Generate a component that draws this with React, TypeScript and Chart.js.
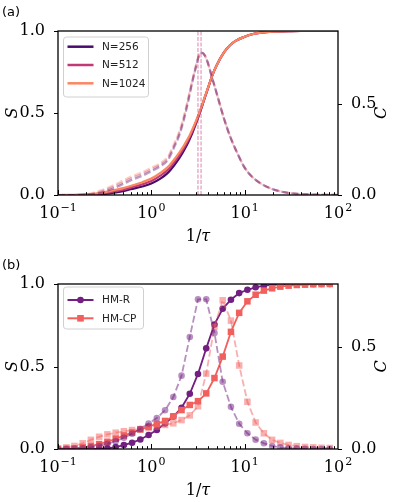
import React, { useEffect, useRef } from "react";
import { Chart, registerables } from "chart.js";
Chart.register(...registerables);

// ---------- Panel (a) ----------
const tauA = [0.1, 0.15, 0.2, 0.25, 0.3, 0.4, 0.5, 0.6, 0.8, 1, 1.25, 1.5, 1.75, 2, 2.25, 2.5, 2.75, 3, 3.25, 3.5, 3.75, 4, 4.5, 5, 6, 7, 8, 10, 12, 15, 20, 25, 30, 40, 50, 70, 100];
const sN256 = [0, 0, 0.001, 0.002, 0.005, 0.014, 0.024, 0.035, 0.052, 0.07, 0.1, 0.135, 0.18, 0.226, 0.275, 0.325, 0.378, 0.433, 0.488, 0.542, 0.595, 0.642, 0.73, 0.79, 0.87, 0.915, 0.94, 0.965, 0.98, 0.99, 0.996, 0.998, 0.999, 1, 1, 1, 1];
const sN512 = [0, 0, 0.002, 0.005, 0.01, 0.022, 0.033, 0.045, 0.065, 0.085, 0.118, 0.153, 0.198, 0.243, 0.29, 0.338, 0.39, 0.442, 0.495, 0.547, 0.598, 0.644, 0.73, 0.79, 0.87, 0.915, 0.94, 0.965, 0.98, 0.99, 0.996, 0.998, 0.999, 1, 1, 1, 1];
const sN1024 = [0, 0.001, 0.003, 0.008, 0.015, 0.03, 0.042, 0.055, 0.078, 0.1, 0.135, 0.17, 0.215, 0.26, 0.305, 0.35, 0.4, 0.45, 0.5, 0.55, 0.6, 0.645, 0.73, 0.79, 0.87, 0.915, 0.94, 0.965, 0.98, 0.99, 0.996, 0.998, 0.999, 1, 1, 1, 1];
const cN256 = [0, 0, 0, 0.005, 0.015, 0.038, 0.06, 0.08, 0.105, 0.13, 0.158, 0.19, 0.26, 0.33, 0.42, 0.52, 0.62, 0.7, 0.765, 0.78, 0.765, 0.73, 0.64, 0.56, 0.42, 0.32, 0.25, 0.15, 0.1, 0.062, 0.032, 0.018, 0.011, 0.005, 0.003, 0.001, 0];
const cN512 = [0, 0, 0.002, 0.01, 0.022, 0.047, 0.07, 0.09, 0.115, 0.14, 0.167, 0.2, 0.27, 0.34, 0.43, 0.53, 0.625, 0.705, 0.768, 0.78, 0.765, 0.73, 0.64, 0.56, 0.42, 0.32, 0.25, 0.15, 0.1, 0.062, 0.032, 0.018, 0.011, 0.005, 0.003, 0.001, 0];
const cN1024 = [0, 0, 0.004, 0.015, 0.028, 0.055, 0.08, 0.1, 0.125, 0.15, 0.175, 0.21, 0.28, 0.35, 0.44, 0.54, 0.63, 0.71, 0.77, 0.78, 0.765, 0.73, 0.64, 0.56, 0.42, 0.32, 0.25, 0.15, 0.1, 0.062, 0.032, 0.018, 0.011, 0.005, 0.003, 0.001, 0];
const labelsA = ["N=256", "N=512", "N=1024"];
const colorsA = ["#4a0c6b", "#c03a76", "#fb8761"];
const criticalTauA = [3.16, 3.41];
const cMaxA = 0.9;

// ---------- Panel (b) ----------
const tauB = [0.1, 0.123, 0.15, 0.184, 0.225, 0.276, 0.338, 0.415, 0.508, 0.622, 0.762, 0.935, 1.145, 1.403, 1.719, 2.107, 2.582, 3.162, 3.874, 4.746, 5.817, 7.127, 8.733, 10.7, 13.11, 16.07, 19.68, 24.12, 29.55, 36.21, 44.37, 54.36, 66.61, 81.62];
const sHMR = [0, 0, 0, 0, 0, 0.001, 0.004, 0.012, 0.024, 0.038, 0.058, 0.085, 0.115, 0.155, 0.197, 0.25, 0.335, 0.455, 0.61, 0.755, 0.85, 0.905, 0.945, 0.965, 0.98, 0.99, 0.995, 0.998, 0.999, 1, 1, 1, 1, 1];
const cHMR = [0, 0, 0.001, 0.003, 0.008, 0.015, 0.025, 0.038, 0.055, 0.075, 0.098, 0.125, 0.152, 0.19, 0.255, 0.36, 0.55, 0.735, 0.735, 0.57, 0.33, 0.207, 0.124, 0.077, 0.046, 0.028, 0.015, 0.008, 0.004, 0.002, 0.001, 0, 0, 0];
const sHMCP = [0, 0.001, 0.004, 0.01, 0.018, 0.03, 0.044, 0.062, 0.082, 0.1, 0.118, 0.135, 0.152, 0.17, 0.198, 0.236, 0.267, 0.29, 0.337, 0.43, 0.56, 0.71, 0.825, 0.895, 0.935, 0.96, 0.974, 0.984, 0.99, 0.994, 0.996, 0.998, 0.999, 1];
const cHMCP = [0.003, 0.008, 0.015, 0.028, 0.045, 0.06, 0.072, 0.08, 0.087, 0.093, 0.098, 0.103, 0.11, 0.118, 0.126, 0.142, 0.165, 0.21, 0.37, 0.6, 0.73, 0.63, 0.41, 0.232, 0.13, 0.077, 0.045, 0.03, 0.02, 0.014, 0.01, 0.008, 0.006, 0.005];
const labelsB = ["HM-R", "HM-CP"];
const colorsB = ["#721f81", "#f1605d"];
const markersB = ["circle", "rect"];
const cMaxB = 0.81;

// ---------- shared axes ----------
const sTicks = [0, 0.5, 1];
const cTicks = [0, 0.5];
const xMajor = [0.1, 1, 10, 100];
const xExponents = ["\u22121", "0", "1", "2"];
const xTitle = ["1/", "\u03c4"];

const SERIF = '"DejaVu Serif", "Liberation Serif", serif';
const SANS = '"DejaVu Sans", sans-serif';

function rgba(hex: string, a: number) {
  const n = parseInt(hex.slice(1), 16);
  return `rgba(${(n >> 16) & 255},${(n >> 8) & 255},${n & 255},${a})`;
}
const pts = (xs: number[], ys: number[]) => xs.map((x, i) => ({ x, y: ys[i] }));

function drawMarker(ctx: CanvasRenderingContext2D, style: string, x: number, y: number, color: string) {
  ctx.fillStyle = color;
  if (style === "rect") {
    ctx.fillRect(x - 3.3, y - 3.3, 6.6, 6.6);
  } else {
    ctx.beginPath();
    ctx.arc(x, y, 3.3, 0, Math.PI * 2);
    ctx.fill();
  }
}

function makeDeco(cfg: any) {
  return {
    id: "deco" + cfg.letter,
    afterDraw(chart: any) {
      const ctx: CanvasRenderingContext2D = chart.ctx;
      const { left, right, top, bottom } = chart.chartArea;
      const xs = chart.scales.x;
      const ys = chart.scales.y;
      const yc = chart.scales.y1;
      ctx.save();
      ctx.strokeStyle = "#000";
      ctx.lineWidth = 1;
      ctx.setLineDash([]);
      // x ticks (inward)
      for (let d = 0; d < 3; d++) {
        const base = xMajor[d];
        for (let m = 1; m <= 9; m++) {
          const px = Math.round(xs.getPixelForValue(base * m)) + 0.5;
          const len = m === 1 ? 5 : 2.8;
          ctx.beginPath();
          ctx.moveTo(px, bottom);
          ctx.lineTo(px, bottom - len);
          ctx.stroke();
        }
      }
      // y ticks (outward)
      sTicks.forEach((v) => {
        const py = Math.round(ys.getPixelForValue(v)) + 0.5;
        ctx.beginPath();
        ctx.moveTo(left - 4, py);
        ctx.lineTo(left, py);
        ctx.stroke();
      });
      cTicks.forEach((v) => {
        const py = Math.round(yc.getPixelForValue(v)) + 0.5;
        ctx.beginPath();
        ctx.moveTo(right, py);
        ctx.lineTo(right + 4, py);
        ctx.stroke();
      });
      // frame
      ctx.lineWidth = 1.3;
      ctx.strokeRect(left, top, right - left, bottom - top);

      // x tick labels 10^k
      ctx.fillStyle = "#000";
      ctx.textBaseline = "alphabetic";
      ctx.textAlign = "left";
      xMajor.forEach((v, i) => {
        const px = xs.getPixelForValue(v);
        ctx.font = `16px ${SERIF}`;
        const wb = ctx.measureText("10").width;
        ctx.font = `11px ${SERIF}`;
        const we = ctx.measureText(xExponents[i]).width;
        const total = wb + we + 1;
        const x0 = px - total / 2;
        ctx.font = `16px ${SERIF}`;
        ctx.fillText("10", x0, bottom + 23);
        ctx.font = `11px ${SERIF}`;
        ctx.fillText(xExponents[i], x0 + wb + 1, bottom + 16);
      });
      // x title
      ctx.font = `16px ${SERIF}`;
      const w1 = ctx.measureText(xTitle[0]).width;
      ctx.font = `italic 16px ${SERIF}`;
      const w2 = ctx.measureText(xTitle[1]).width;
      const cx = (left + right) / 2 - (w1 + w2) / 2;
      ctx.font = `16px ${SERIF}`;
      ctx.fillText(xTitle[0], cx, bottom + 46);
      ctx.font = `italic 16px ${SERIF}`;
      ctx.fillText(xTitle[1], cx + w1, bottom + 46);

      // y titles
      const midY = (top + bottom) / 2;
      ctx.font = `italic 16px ${SERIF}`;
      ctx.textAlign = "center";
      ctx.textBaseline = "middle";
      ctx.save();
      ctx.translate(13, midY);
      ctx.rotate(-Math.PI / 2);
      ctx.fillText("S", 0, 0);
      ctx.restore();
      ctx.save();
      ctx.translate(right + 44, midY);
      ctx.rotate(-Math.PI / 2);
      ctx.fillText("C", 0, 0);
      ctx.restore();

      // panel letter
      ctx.textAlign = "left";
      ctx.textBaseline = "alphabetic";
      ctx.font = `13px ${SANS}`;
      ctx.fillText(`(${cfg.letter})`, 2, top - 15);

      // legend
      const lg = cfg.legend;
      const bx = left + 5.5;
      const by = top + lg.top;
      const r = 3;
      ctx.beginPath();
      ctx.moveTo(bx + r, by);
      ctx.lineTo(bx + lg.w - r, by);
      ctx.arcTo(bx + lg.w, by, bx + lg.w, by + r, r);
      ctx.lineTo(bx + lg.w, by + lg.h - r);
      ctx.arcTo(bx + lg.w, by + lg.h, bx + lg.w - r, by + lg.h, r);
      ctx.lineTo(bx + r, by + lg.h);
      ctx.arcTo(bx, by + lg.h, bx, by + lg.h - r, r);
      ctx.lineTo(bx, by + r);
      ctx.arcTo(bx, by, bx + r, by, r);
      ctx.closePath();
      ctx.fillStyle = "rgba(255,255,255,0.85)";
      ctx.fill();
      ctx.strokeStyle = "#d0d0d0";
      ctx.lineWidth = 1;
      ctx.stroke();
      lg.items.forEach((it: any, i: number) => {
        const y = top + lg.rows[i];
        ctx.strokeStyle = it.color;
        ctx.lineWidth = lg.lw;
        ctx.beginPath();
        ctx.moveTo(bx + 4, y);
        ctx.lineTo(bx + 30, y);
        ctx.stroke();
        if (it.marker) drawMarker(ctx, it.marker, bx + 17, y, it.color);
        ctx.fillStyle = "#222";
        ctx.font = `10.5px ${SANS}`;
        ctx.textBaseline = "middle";
        ctx.fillText(it.label, bx + 38.5, y + 0.5);
      });
      ctx.restore();
    },
  };
}

function baseOptions(padTop: number, xHeight: number, cMax: number) {
  const tickFont = { family: SERIF, size: 16 };
  return {
    responsive: false,
    animation: false,
    devicePixelRatio: 1,
    layout: { padding: { top: padTop, left: 0, right: 0, bottom: 0 } },
    plugins: { legend: { display: false }, tooltip: { enabled: false } },
    elements: { point: { radius: 0 } },
    scales: {
      x: {
        type: "logarithmic",
        min: 0.1,
        max: 100,
        ticks: { display: false },
        grid: { display: false },
        border: { display: false },
        afterFit: (s: any) => {
          s.height = xHeight;
        },
      },
      y: {
        position: "left",
        min: 0,
        max: 1,
        afterBuildTicks: (s: any) => {
          s.ticks = sTicks.map((v) => ({ value: v }));
        },
        ticks: { padding: 5, color: "#000", font: tickFont, callback: (v: any) => Number(v).toFixed(1) },
        grid: { display: false },
        border: { display: false },
        afterFit: (s: any) => {
          s.width = 58;
        },
      },
      y1: {
        position: "right",
        min: 0,
        max: cMax,
        afterBuildTicks: (s: any) => {
          s.ticks = cTicks.map((v) => ({ value: v }));
        },
        ticks: { padding: 5, color: "#000", font: tickFont, callback: (v: any) => Number(v).toFixed(1) },
        grid: { display: false },
        border: { display: false },
        afterFit: (s: any) => {
          s.width = 57;
        },
      },
    },
  };
}

export default function App() {
  const refA = useRef<HTMLCanvasElement>(null);
  const refB = useRef<HTMLCanvasElement>(null);

  useEffect(() => {
    const sA = [sN256, sN512, sN1024];
    const cA = [cN256, cN512, cN1024];

    const dsA: any[] = [];
    criticalTauA.forEach((c) => {
      dsA.push({
        data: [{ x: c, y: 0 }, { x: c, y: 1 }],
        yAxisID: "y",
        borderColor: rgba(colorsA[1], 0.6),
        borderWidth: 1,
        borderDash: [4, 1.5],
        pointRadius: 0,
      });
    });
    [0, 1, 2].forEach((i) => {
      dsA.push({
        data: pts(tauA, cA[i]),
        yAxisID: "y1",
        borderColor: rgba(colorsA[i], 0.38),
        borderWidth: 2.2,
        borderDash: [7, 3],
        pointRadius: 0,
        cubicInterpolationMode: "monotone",
      });
    });
    [2, 1, 0].forEach((i) => {
      dsA.push({
        data: pts(tauA, sA[i]),
        yAxisID: "y",
        borderColor: colorsA[i],
        borderWidth: 2.2,
        pointRadius: 0,
        cubicInterpolationMode: "monotone",
      });
    });

    const chartA = new Chart(refA.current as HTMLCanvasElement, {
      type: "line",
      data: { datasets: dsA },
      options: baseOptions(31, 56, cMaxA) as any,
      plugins: [
        makeDeco({
          letter: "a",
          legend: {
            top: 6,
            w: 85,
            h: 60,
            lw: 2.5,
            rows: [15.7, 34, 52.3],
            items: labelsA.map((l, i) => ({ label: l, color: colorsA[i] })),
          },
        }),
      ],
    });

    const sB = [sHMR, sHMCP];
    const cB = [cHMR, cHMCP];
    const dsB: any[] = [];
    [0, 1].forEach((i) => {
      dsB.push({
        data: pts(tauB, cB[i]),
        yAxisID: "y1",
        borderColor: rgba(colorsB[i], 0.5),
        backgroundColor: rgba(colorsB[i], 0.5),
        borderWidth: 1.8,
        borderDash: [7, 3],
        pointStyle: markersB[i],
        pointRadius: markersB[i] === "rect" ? 4.6 : 3.3,
        pointBorderWidth: 0,
        pointBackgroundColor: rgba(colorsB[i], 0.5),
        tension: 0,
      });
    });
    [1, 0].forEach((i) => {
      dsB.push({
        data: pts(tauB, sB[i]),
        yAxisID: "y",
        borderColor: colorsB[i],
        backgroundColor: colorsB[i],
        borderWidth: 1.8,
        pointStyle: markersB[i],
        pointRadius: markersB[i] === "rect" ? 4.6 : 3.3,
        pointBorderWidth: 0,
        pointBackgroundColor: colorsB[i],
        tension: 0,
      });
    });

    const chartB = new Chart(refB.current as HTMLCanvasElement, {
      type: "line",
      data: { datasets: dsB },
      options: baseOptions(33, 53, cMaxB) as any,
      plugins: [
        makeDeco({
          letter: "b",
          legend: {
            top: 3,
            w: 80,
            h: 42,
            lw: 2,
            rows: [16, 34.3],
            items: labelsB.map((l, i) => ({ label: l, color: colorsB[i], marker: markersB[i] })),
          },
        }),
      ],
    });

    return () => {
      chartA.destroy();
      chartB.destroy();
    };
  }, []);

  return (
    <div style={{ position: "absolute", left: 0, top: 0, width: 395, height: 502, background: "#fff" }}>
      <canvas ref={refA} width={395} height={251} style={{ display: "block" }} />
      <canvas ref={refB} width={395} height={251} style={{ display: "block" }} />
    </div>
  );
}
